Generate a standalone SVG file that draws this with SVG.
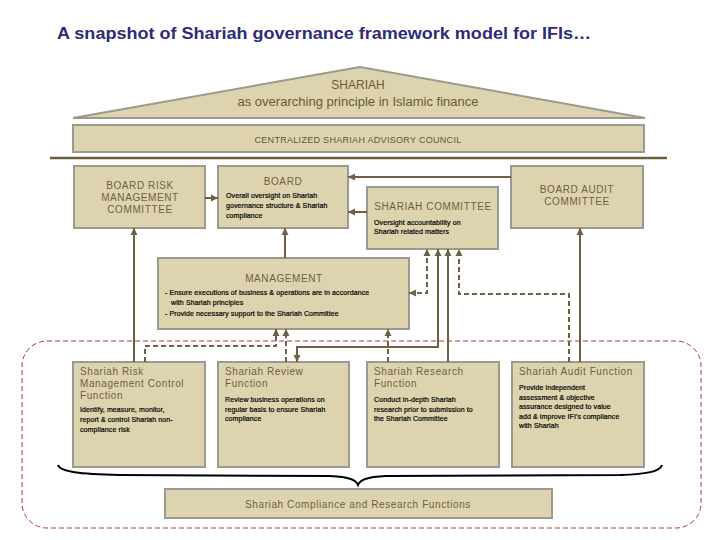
<svg xmlns="http://www.w3.org/2000/svg" width="720" height="540" viewBox="0 0 720 540">
<defs>
<style>
.box{fill:#DDD4AF;stroke:#9C9A8E;stroke-width:2}
.hd{font-family:"Liberation Sans",Arial,sans-serif;font-size:10px;fill:#6E5F40;letter-spacing:0.6px}
.hdc{font-family:"Liberation Sans",Arial,sans-serif;font-size:10px;fill:#6E5F40;letter-spacing:0.6px;text-anchor:middle}
.ds{font-family:"Liberation Sans",Arial,sans-serif;font-size:7px;fill:#000;stroke:#000;stroke-width:0.2px;letter-spacing:0.1px}
.c{fill:none;stroke:#6E6040;stroke-width:2}
.d{fill:none;stroke:#6E6040;stroke-width:2;stroke-dasharray:5,3}
.ae{marker-end:url(#ah)}
.ab{marker-end:url(#ah);marker-start:url(#ah)}
</style>
<marker id="ah" markerUnits="userSpaceOnUse" markerWidth="8" markerHeight="8" refX="7" refY="4" orient="auto-start-reverse">
<path d="M0,0.5 L7,4 L0,7.5 z" fill="#6E6040"/>
</marker>
</defs>
<rect width="720" height="540" fill="#fff"/>
<text x="57" y="39" font-family="Liberation Sans,Arial,sans-serif" font-weight="bold" font-size="16" fill="#2E2B7A" textLength="534" lengthAdjust="spacingAndGlyphs">A snapshot of Shariah governance framework model for IFIs…</text>

<g id="roof">
<polygon points="360,67 73,118 645,118" fill="#DDD4AF" stroke="#9C9A8E" stroke-width="2"/>
<text x="358" y="89" text-anchor="middle" font-family="Liberation Sans,Arial,sans-serif" font-size="12" fill="#6A5A2A">SHARIAH</text>
<text x="358" y="106" text-anchor="middle" font-family="Liberation Sans,Arial,sans-serif" font-size="12" fill="#6A5A2A" textLength="241" lengthAdjust="spacingAndGlyphs">as overarching principle in Islamic finance</text>
</g>

<g id="council">
<rect class="box" x="73" y="125" width="571" height="27"/>
<text x="358" y="143" text-anchor="middle" font-family="Liberation Sans,Arial,sans-serif" font-size="9" fill="#5E5440" letter-spacing="0.3">CENTRALIZED SHARIAH ADVISORY COUNCIL</text>
</g>
<line x1="50" y1="158" x2="667" y2="158" stroke="#6B5E3A" stroke-width="2.5"/>

<g id="risk-committee">
<rect class="box" x="74" y="166" width="131" height="62"/>
<text class="hdc" x="140" y="189">BOARD RISK</text>
<text class="hdc" x="140" y="201">MANAGEMENT</text>
<text class="hdc" x="140" y="213">COMMITTEE</text>
</g>

<g id="board">
<rect class="box" x="218" y="166" width="130" height="62"/>
<text class="hdc" x="283" y="185">BOARD</text>
<text class="ds" x="226" y="198">Overall oversight on Shariah</text>
<text class="ds" x="226" y="208">governance structure &amp; Shariah</text>
<text class="ds" x="226" y="218">compliance</text>
</g>

<g id="shariah-committee">
<rect class="box" x="367" y="187" width="131" height="62"/>
<text class="hdc" x="433" y="210">SHARIAH COMMITTEE</text>
<text class="ds" x="374" y="225">Oversight accountability on</text>
<text class="ds" x="374" y="234">Shariah related matters</text>
</g>

<g id="audit-committee">
<rect class="box" x="511" y="166" width="132" height="62"/>
<text class="hdc" x="577" y="193">BOARD AUDIT</text>
<text class="hdc" x="577" y="205">COMMITTEE</text>
</g>

<g id="management">
<rect class="box" x="158" y="258" width="251" height="71"/>
<text class="hdc" x="284" y="282">MANAGEMENT</text>
<text class="ds" x="165" y="295">- Ensure executions of business &amp; operations are in accordance</text>
<text class="ds" x="171" y="305">with Shariah principles</text>
<text class="ds" x="165" y="316">- Provide necessary support to the Shariah Committee</text>
</g>

<rect x="22" y="341" width="679" height="187" rx="25" ry="25" fill="none" stroke="#B03A48" stroke-width="1" stroke-dasharray="5,3"/>

<g id="risk-function">
<rect class="box" x="73" y="362" width="132" height="105"/>
<text class="hd" x="80" y="375">Shariah Risk</text>
<text class="hd" x="80" y="387">Management Control</text>
<text class="hd" x="80" y="399">Function</text>
<text class="ds" x="80" y="412">Identify, measure, monitor,</text>
<text class="ds" x="80" y="422">report &amp; control Shariah non-</text>
<text class="ds" x="80" y="432">compliance risk</text>
</g>

<g id="review-function">
<rect class="box" x="218" y="362" width="131" height="105"/>
<text class="hd" x="225" y="375">Shariah Review</text>
<text class="hd" x="225" y="387">Function</text>
<text class="ds" x="225" y="402">Review business operations on</text>
<text class="ds" x="225" y="412">regular basis to ensure Shariah</text>
<text class="ds" x="225" y="421">compliance</text>
</g>

<g id="research-function">
<rect class="box" x="367" y="362" width="132" height="105"/>
<text class="hd" x="374" y="375">Shariah Research</text>
<text class="hd" x="374" y="387">Function</text>
<text class="ds" x="374" y="402">Conduct in-depth Shariah</text>
<text class="ds" x="374" y="412">research prior to submission to</text>
<text class="ds" x="374" y="421">the Shariah Committee</text>
</g>

<g id="audit-function">
<rect class="box" x="512" y="362" width="132" height="105"/>
<text class="hd" x="519" y="375">Shariah Audit Function</text>
<text class="ds" x="519" y="390">Provide independent</text>
<text class="ds" x="519" y="400">assessment &amp; objective</text>
<text class="ds" x="519" y="409">assurance designed to value</text>
<text class="ds" x="519" y="419">add &amp; improve IFI's compliance</text>
<text class="ds" x="519" y="428">with Shariah</text>
</g>

<path id="brace" d="M58,465 C60,472 80,474 120,475 L330,476 C350,477 356,480 358,485 C360,480 366,477 386,476 L620,475 C650,474 660,471 662,465" fill="none" stroke="#000" stroke-width="2"/>

<g id="compliance">
<rect class="box" x="165" y="489" width="387" height="29"/>
<text class="hdc" x="358" y="508" letter-spacing="0.5">Shariah Compliance and Research Functions</text>
</g>

<g id="connectors">
<path class="c ae" d="M205,198 H218"/>
<path class="c ae" d="M511,177 H348"/>
<path class="c ae" d="M367,212 H348"/>
<path class="c ae" d="M285,258 V228"/>
<path class="c ae" d="M134,362 V228"/>
<path class="d ae" d="M145,362 V346 H276 V329"/>
<path class="d ae" d="M286,362 V329"/>
<path class="c ab" d="M438,249 V347 H297 V362"/>
<path class="d ab" d="M409,293 H427 V249"/>
<path class="c ae" d="M448,362 V249"/>
<path class="d ae" d="M569,362 V294 H459 V249"/>
<path class="c ae" d="M580,362 V228"/>
<path class="d ae" d="M388,362 V329"/>
</g>
</svg>
